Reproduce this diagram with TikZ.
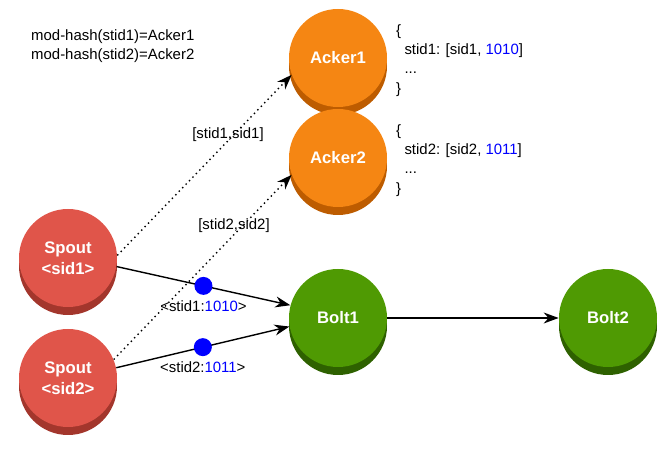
\documentclass[tikz,border=0pt]{standalone}
\usepackage{fontspec}
\setmainfont{Liberation Sans}
\usetikzlibrary{arrows.meta}
\usetikzlibrary{positioning}
\definecolor{spoutfill}{HTML}{E0554A}
\definecolor{spoutdark}{HTML}{A3362C}
\definecolor{ackerfill}{HTML}{F58613}
\definecolor{ackerdark}{HTML}{BD5C00}
\definecolor{boltfill}{HTML}{4F9A03}
\definecolor{boltdark}{HTML}{2E6100}
\definecolor{numblue}{HTML}{0000FF}
\tikzset{
  disc/.style 2 args={circle, minimum size=1.96cm, inner sep=0pt, fill=#1,
    text=white, font=\fontsize{9.5}{12}\selectfont\bfseries, align=center,
    preaction={fill=#2, transform canvas={yshift=-0.16cm}}},
  msg/.style={font=\fontsize{8.5}{10}\selectfont},
  dot/.style={circle, fill=numblue, minimum size=0.36cm, inner sep=0pt},
  flow/.style={thick, -{Stealth[length=3mm, width=2.2mm]}},
  ack/.style={thick, dotted, -{Stealth[length=3mm, width=2.2mm]}}
}
\begin{document}
\begin{tikzpicture}

\useasboundingbox (0,0) rectangle (13.42,8.98);

\node[disc={spoutfill}{spoutdark}] (spout1) at (1.36,3.82) {Spout\\<sid1>};
\node[disc={spoutfill}{spoutdark}] (spout2) at (1.36,1.42) {Spout\\<sid2>};
\node[disc={ackerfill}{ackerdark}] (acker1) at (6.76,7.82) {Acker1};
\node[disc={ackerfill}{ackerdark}] (acker2) at (6.76,5.82) {Acker2};
\node[disc={boltfill}{boltdark}] (bolt1) at (6.76,2.62) {Bolt1};
\node[disc={boltfill}{boltdark}] (bolt2) at (12.16,2.62) {Bolt2};

% acking messages
\draw[ack] (spout1.3) -- (acker1.200);
\draw[ack] (spout2.22) -- (acker2.200);
\node[msg] (ackmsg1) at (4.56,6.28) {[stid1,sid1]};
\node[msg] (ackmsg2) at (4.68,4.46) {[stid2,sid2]};

% tuples
\draw[flow] (spout1.-10) -- (bolt1.165) node[pos=0.5, dot] (tup1) {};
\draw[flow] (spout2.12) -- (bolt1.190) node[pos=0.5, dot] (tup2) {};
\draw[flow] (bolt1) -- (bolt2);
\node[msg, below=-0.02cm of tup1] {<stid1:\textcolor{numblue}{1010}>};
\node[msg, below=-0.02cm of tup2] {<stid2:\textcolor{numblue}{1011}>};

% hashing and acker tables
\node[msg, anchor=north west, align=left] (hash) at (0.5,8.52)
  {mod-hash(stid1)=Acker1\\[1pt]mod-hash(stid2)=Acker2};
\node[msg, anchor=north west, align=left] (table1) at (7.8,8.62)
  {\{\\[1pt]\ \ stid1: [sid1, \textcolor{numblue}{1010}]\\[1pt]\ \ ...\\[1pt]\}};
\node[msg, anchor=north west, align=left] (table2) at (7.8,6.62)
  {\{\\[1pt]\ \ stid2: [sid2, \textcolor{numblue}{1011}]\\[1pt]\ \ ...\\[1pt]\}};

\end{tikzpicture}
\end{document}
